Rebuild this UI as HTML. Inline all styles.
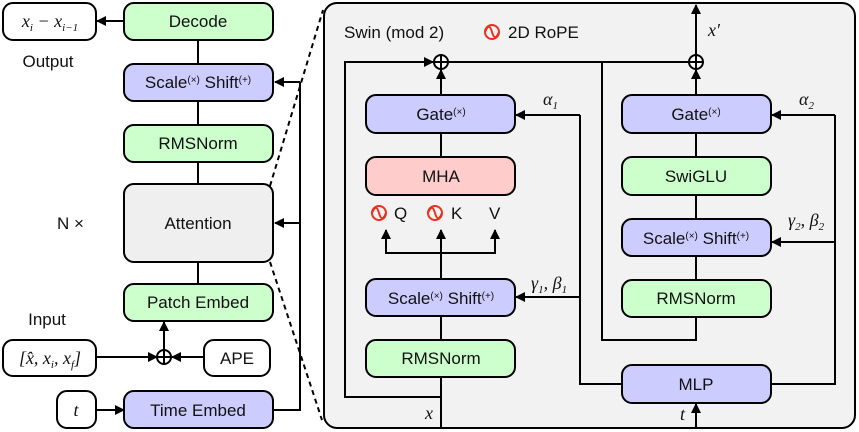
<!DOCTYPE html>
<html><head><meta charset="utf-8"><style>
html,body{margin:0;padding:0;background:#fff}
svg{display:block}
text{font-family:"Liberation Sans","DejaVu Sans",sans-serif;font-size:17px;fill:#111}
.m{font-family:"Liberation Serif",serif;font-style:italic;font-size:18px}
.sup{font-size:10px}
</style></head><body>
<svg width="859" height="432" viewBox="0 0 859 432" xmlns="http://www.w3.org/2000/svg">
<defs>
<marker id="a" viewBox="0 0 10 10" refX="9" refY="5" markerWidth="10" markerHeight="10" orient="auto-start-reverse" markerUnits="userSpaceOnUse"><path d="M0,0 L10,5 L0,10 Z" fill="#000"/></marker>
</defs>
<g stroke="#000" stroke-width="2" fill="none">
<rect x="324" y="3" width="531" height="425" rx="13" fill="#f2f2f2"/>
<line x1="270" y1="186" x2="323" y2="10" stroke-dasharray="5,4"/>
<line x1="270" y1="262" x2="322" y2="420" stroke-dasharray="5,4"/>
<line x1="198" y1="40" x2="198" y2="64"/>
<line x1="198" y1="101" x2="198" y2="125"/>
<line x1="198" y1="162" x2="198" y2="184"/>
<line x1="198" y1="262" x2="198" y2="284"/>
<line x1="124" y1="21" x2="97" y2="21" marker-end="url(#a)"/>
<polyline points="273,410 300,410 300,82"/>
<line x1="300" y1="82" x2="275" y2="82" marker-end="url(#a)"/>
<line x1="300" y1="223" x2="275" y2="223" marker-end="url(#a)"/>
<line x1="96" y1="357" x2="157" y2="357" marker-end="url(#a)"/>
<line x1="204" y1="357" x2="172" y2="357" marker-end="url(#a)"/>
<line x1="164" y1="350" x2="164" y2="322" marker-end="url(#a)"/>
<line x1="96" y1="410" x2="124" y2="410" marker-end="url(#a)"/>
<circle cx="164" cy="357" r="7" fill="#fff"/>
<line x1="157" y1="357" x2="171" y2="357"/><line x1="164" y1="350" x2="164" y2="364"/>
<rect x="3" y="3" width="93" height="37" rx="10" fill="#fff"/>
<rect x="124" y="3" width="149" height="37" rx="10" fill="#ccffcc"/>
<rect x="124" y="64" width="149" height="37" rx="10" fill="#ccccff"/>
<rect x="124" y="125" width="149" height="37" rx="10" fill="#ccffcc"/>
<rect x="124" y="184" width="149" height="78" rx="10" fill="#efefef"/>
<rect x="124" y="284" width="149" height="37" rx="10" fill="#ccffcc"/>
<rect x="3" y="340" width="93" height="36" rx="10" fill="#fff"/>
<rect x="204" y="340" width="66" height="36" rx="10" fill="#fff"/>
<rect x="57" y="391" width="39" height="37" rx="10" fill="#fff"/>
<rect x="124" y="391" width="149" height="37" rx="10" fill="#ccccff"/>

<line x1="441" y1="428" x2="441" y2="377"/>
<line x1="441" y1="340" x2="441" y2="316"/>
<line x1="441" y1="279" x2="441" y2="230" marker-end="url(#a)"/>
<polyline points="386,231 386,253 495,253 495,231" />
<line x1="386" y1="253" x2="386" y2="230" marker-end="url(#a)"/>
<line x1="495" y1="253" x2="495" y2="230" marker-end="url(#a)"/>
<line x1="441" y1="157" x2="441" y2="133"/>
<line x1="441" y1="95" x2="441" y2="70" marker-end="url(#a)"/>
<polyline points="441,397 345,397 345,62 433,62" />
<line x1="420" y1="62" x2="433" y2="62" marker-end="url(#a)"/>
<line x1="448" y1="62" x2="689" y2="62"/>
<polyline points="602,62 602,340 696,340 696,317"/>
<line x1="696" y1="280" x2="696" y2="256"/>
<line x1="696" y1="219" x2="696" y2="195"/>
<line x1="696" y1="157" x2="696" y2="133"/>
<line x1="696" y1="95" x2="696" y2="70" marker-end="url(#a)"/>
<line x1="696" y1="55" x2="696" y2="5" marker-end="url(#a)"/>
<line x1="696" y1="428" x2="696" y2="404" marker-end="url(#a)"/>
<polyline points="622,384 580,384 580,115"/>
<line x1="580" y1="115" x2="516" y2="115" marker-end="url(#a)"/>
<line x1="580" y1="297" x2="516" y2="297" marker-end="url(#a)"/>
<polyline points="771,384 835,384 835,115"/>
<line x1="835" y1="115" x2="772" y2="115" marker-end="url(#a)"/>
<line x1="835" y1="242" x2="772" y2="242" marker-end="url(#a)"/>
<circle cx="441" cy="62" r="7" fill="#fff"/>
<line x1="434" y1="62" x2="448" y2="62"/><line x1="441" y1="55" x2="441" y2="69"/>
<circle cx="696" cy="62" r="7" fill="#fff"/>
<line x1="689" y1="62" x2="703" y2="62"/><line x1="696" y1="55" x2="696" y2="69"/>

<rect x="366" y="95" width="149" height="38" rx="10" fill="#ccccff"/>
<rect x="366" y="157" width="149" height="38" rx="10" fill="#ffcccc"/>
<rect x="366" y="279" width="149" height="37" rx="10" fill="#ccccff"/>
<rect x="366" y="340" width="149" height="37" rx="10" fill="#ccffcc"/>
<rect x="622" y="95" width="149" height="38" rx="10" fill="#ccccff"/>
<rect x="622" y="157" width="149" height="38" rx="10" fill="#ccffcc"/>
<rect x="622" y="219" width="149" height="37" rx="10" fill="#ccccff"/>
<rect x="622" y="280" width="149" height="37" rx="10" fill="#ccffcc"/>
<rect x="622" y="365" width="149" height="38" rx="10" fill="#ccccff"/>
</g>
<g stroke="#e8321e" stroke-width="2" fill="none">
<circle cx="492" cy="32" r="7"/><path d="M485,32 C488,25 490,25 492,32 S496,39 499,32"/>
<circle cx="379" cy="213" r="7"/><path d="M372,213 C375,206 377,206 379,213 S383,220 386,213"/>
<circle cx="435" cy="213" r="7"/><path d="M428,213 C431,206 433,206 435,213 S439,220 442,213"/>
</g>
<g text-anchor="middle">
<text x="198" y="27">Decode</text>
<text x="198" y="88">Scale<tspan class="sup" dy="-5">(×)</tspan><tspan dy="5"> Shift</tspan><tspan class="sup" dy="-5">(+)</tspan></text>
<text x="198" y="149">RMSNorm</text>
<text x="198" y="229">Attention</text>
<text x="198" y="308">Patch Embed</text>
<text x="237" y="364">APE</text>
<text x="198" y="416">Time Embed</text>
<text x="48" y="67">Output</text>
<text x="47" y="325">Input</text>
<text class="m" x="50" y="27">x<tspan font-size="11" dy="4">i</tspan><tspan dy="-4"> − x</tspan><tspan font-size="11" dy="4">i−1</tspan></text>
<text class="m" x="50" y="364">[x̂, x<tspan font-size="11" dy="4">i</tspan><tspan dy="-4">, x</tspan><tspan font-size="11" dy="4">f</tspan><tspan dy="-4">]</tspan></text>
<text class="m" x="76" y="416">t</text>
<text x="441" y="120">Gate<tspan class="sup" dy="-5">(×)</tspan></text>
<text x="441" y="182">MHA</text>
<text x="441" y="304">Scale<tspan class="sup" dy="-5">(×)</tspan><tspan dy="5"> Shift</tspan><tspan class="sup" dy="-5">(+)</tspan></text>
<text x="441" y="364">RMSNorm</text>
<text x="696" y="120">Gate<tspan class="sup" dy="-5">(×)</tspan></text>
<text x="696" y="182">SwiGLU</text>
<text x="696" y="244">Scale<tspan class="sup" dy="-5">(×)</tspan><tspan dy="5"> Shift</tspan><tspan class="sup" dy="-5">(+)</tspan></text>
<text x="696" y="304">RMSNorm</text>
<text x="696" y="390">MLP</text>
</g>
<text x="57" y="229">N ×</text>
<text x="344" y="38">Swin (mod 2)</text>
<text x="508" y="38">2D RoPE</text>
<text x="394" y="219">Q</text>
<text x="451" y="219">K</text>
<text x="489" y="219">V</text>
<text class="m" x="708" y="36">x′</text>
<text class="m" x="543" y="105">α<tspan font-size="11" dy="4">1</tspan></text>
<text class="m" x="531" y="289">γ<tspan font-size="11" dy="4">1</tspan><tspan dy="-4">, β</tspan><tspan font-size="11" dy="4">1</tspan></text>
<text class="m" x="799" y="105">α<tspan font-size="11" dy="4">2</tspan></text>
<text class="m" x="788" y="226">γ<tspan font-size="11" dy="4">2</tspan><tspan dy="-4">, β</tspan><tspan font-size="11" dy="4">2</tspan></text>
<text class="m" x="425" y="419">x</text>
<text class="m" x="680" y="420">t</text>
</svg>
</body></html>
